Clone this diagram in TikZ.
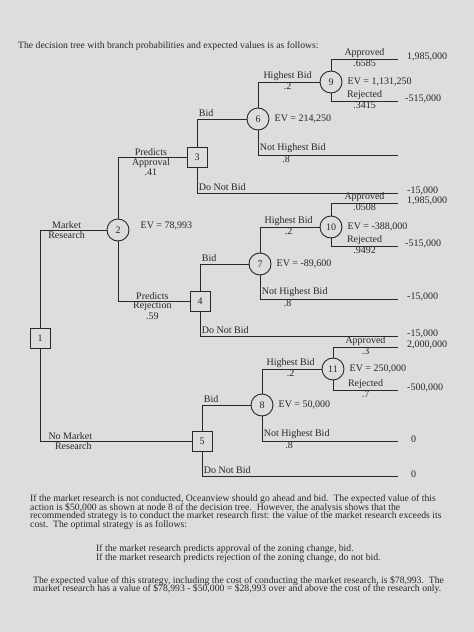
\documentclass[tikz,border=0pt]{standalone}
\usepackage{fontspec}
\setmainfont{Liberation Serif}
\definecolor{bg}{RGB}{221,221,223}
\definecolor{ink}{RGB}{40,40,40}
\begin{document}
\begin{tikzpicture}[x=1pt,y=-1pt,
  every node/.style={text=ink,font=\fontsize{10}{10.5}\selectfont,inner sep=1pt},
  br/.style={draw=ink,line width=0.9pt},
  chance/.style={circle,draw=ink,line width=0.9pt,minimum size=22pt,inner sep=0pt},
  dec/.style={rectangle,draw=ink,line width=0.9pt,minimum size=20pt,inner sep=0pt},
  lab/.style={above,inner sep=1.2pt},
  prob/.style={below,inner sep=0.8pt},
  val/.style={anchor=west,xshift=8pt,yshift=2pt},
  ev/.style={anchor=west,xshift=4pt},
  para/.style={anchor=base west,font=\fontsize{9.7}{10}\selectfont,inner sep=0pt}]
\fill[bg] (0,0) rectangle (474,632);
\useasboundingbox (0,0) rectangle (474,632);

\node[para] (title) at (18,48) {The decision tree with branch probabilities and expected values is as follows:};

% nodes
\node[dec] (n1) at (40,338) {1};
\node[chance] (n2) at (118,230) {2};
\node[dec] (n3) at (197,157) {3};
\node[dec] (n4) at (200,301) {4};
\node[dec] (n5) at (202,441) {5};
\node[chance] (n6) at (258,119) {6};
\node[chance] (n7) at (260,264) {7};
\node[chance] (n8) at (262,405) {8};
\node[chance] (n9) at (331,82) {9};
\node[chance] (n10) at (331,227) {10};
\node[chance] (n11) at (333,369) {11};

% terminal coordinates
\coordinate (t9a) at (398,59);
\coordinate (t9r) at (398,101);
\coordinate (t6n) at (398,155);
\coordinate (t3d) at (398,193);
\coordinate (t10a) at (398,203);
\coordinate (t10r) at (398,246);
\coordinate (t7n) at (398,299);
\coordinate (t4d) at (398,336);
\coordinate (t11a) at (398,347);
\coordinate (t11r) at (398,390);
\coordinate (t8n) at (398,441);
\coordinate (t5d) at (398,476);

% EV labels
\node[ev] (ev9) at (n9.east) {EV = 1,131,250};
\node[ev] (ev6) at (n6.east) {EV = 214,250};
\node[ev] (ev10) at (n10.east) {EV = -388,000};
\node[ev] (ev7) at (n7.east) {EV = -89,600};
\node[ev] (ev11) at (n11.east) {EV = 250,000};
\node[ev] (ev8) at (n8.east) {EV = 50,000};
\node[ev,xshift=6pt,yshift=4pt] (ev2) at (n2.east) {EV = 78,993};

% root branches
\draw[br] (n2.west) -| node[pos=0.3,lab] {Market} node[pos=0.3,prob] {Research} (n1.north);
\draw[br] (n1.south) |- node[pos=0.6,lab] {No Market} node[pos=0.61,prob] {Research} (n5.west);

% node 2 branches
\draw[br] (n2.north) |- node[pos=0.74,lab] {Predicts} node[pos=0.74,prob,align=center] {Approval\\.41} (n3.west);
\draw[br] (n2.south) |- node[pos=0.74,lab] {Predicts} node[pos=0.74,prob,align=center] {Rejection\\.59} (n4.west);

% node 3 branches
\draw[br] (n3.north) |- node[pos=0.5,above right,inner sep=1.5pt] {Bid} (n6.west);
\draw[br] (n3.south) |- node[pos=0.5,above right,inner sep=1.5pt] {Do Not Bid} (t3d);
% node 6 branches
\draw[br] (n6.north) |- node[pos=0.74,lab] {Highest Bid} node[pos=0.74,prob] {.2} (n9.west);
\draw[br] (n6.south) |- node[pos=0.5,above right,inner sep=1.5pt] {Not Highest Bid} node[pos=0.6,prob] {.8} (t6n);
% node 9 branches
\draw[br] (n9.north) |- node[pos=0.75,lab] {Approved} node[pos=0.75,prob] {.6585} (t9a);
\draw[br] (n9.south) |- node[pos=0.75,lab] {Rejected} node[pos=0.75,prob] {.3415} (t9r);

% node 4 branches
\draw[br] (n4.north) |- node[pos=0.5,above right,inner sep=1.5pt] {Bid} (n7.west);
\draw[br] (n4.south) |- node[pos=0.5,above right,inner sep=1.5pt] {Do Not Bid} (t4d);
% node 7 branches
\draw[br] (n7.north) |- node[pos=0.74,lab] {Highest Bid} node[pos=0.74,prob] {.2} (n10.west);
\draw[br] (n7.south) |- node[pos=0.5,above right,inner sep=1.5pt] {Not Highest Bid} node[pos=0.6,prob] {.8} (t7n);
% node 10 branches
\draw[br] (n10.north) |- node[pos=0.75,lab] {Approved} node[pos=0.75,prob] {.0508} (t10a);
\draw[br] (n10.south) |- node[pos=0.75,lab] {Rejected} node[pos=0.75,prob] {.9492} (t10r);

% node 5 branches
\draw[br] (n5.north) |- node[pos=0.5,above right,inner sep=1.5pt] {Bid} (n8.west);
\draw[br] (n5.south) |- node[pos=0.5,above right,inner sep=1.5pt] {Do Not Bid} (t5d);
% node 8 branches
\draw[br] (n8.north) |- node[pos=0.74,lab] {Highest Bid} node[pos=0.74,prob] {.2} (n11.west);
\draw[br] (n8.south) |- node[pos=0.5,above right,inner sep=1.5pt] {Not Highest Bid} node[pos=0.6,prob] {.8} (t8n);
% node 11 branches
\draw[br] (n11.north) |- node[pos=0.75,lab] {Approved} node[pos=0.75,prob] {.3} (t11a);
\draw[br] (n11.south) |- node[pos=0.75,lab] {Rejected} node[pos=0.75,prob] {.7} (t11r);

% payoffs
\node[val] (v9a) at (t9a) {1,985,000};
\node[val,xshift=-2pt] (v9r) at (t9r) {-515,000};
\node[val] (v3d) at (t3d) {-15,000};
\node[val] (v10a) at (t10a) {1,985,000};
\node[val,xshift=-2pt] (v10r) at (t10r) {-515,000};
\node[val] (v7n) at (t7n) {-15,000};
\node[val] (v4d) at (t4d) {-15,000};
\node[val] (v11a) at (t11a) {2,000,000};
\node[val] (v11r) at (t11r) {-500,000};
\node[val,xshift=4pt] (v8n) at (t8n) {0};
\node[val,xshift=4pt] (v5d) at (t5d) {0};

% text below
\node[para] (p1) at (30,501.5) {If the market research is not conducted, Oceanview should go ahead and bid.\ \ The expected value of this};
\node[para] (p2) at (30,510) {action is \$50,000 as shown at node 8 of the decision tree.\ \ However, the analysis shows that the};
\node[para] (p3) at (30,518.5) {recommended strategy is to conduct the market research first: the value of the market research exceeds its};
\node[para] (p4) at (30,527) {cost.\ \ The optimal strategy is as follows:};
\node[para] (p5) at (96,551.5) {If the market research predicts approval of the zoning change, bid.};
\node[para] (p6) at (96,560) {If the market research predicts rejection of the zoning change, do not bid.};
\node[para] (p7) at (33,583) {The expected value of this strategy, including the cost of conducting the market research, is \$78,993.\ \ The};
\node[para] (p8) at (33,591.5) {market research has a value of \$78,993 - \$50,000 = \$28,993 over and above the cost of the research only.};
\end{tikzpicture}
\end{document}
